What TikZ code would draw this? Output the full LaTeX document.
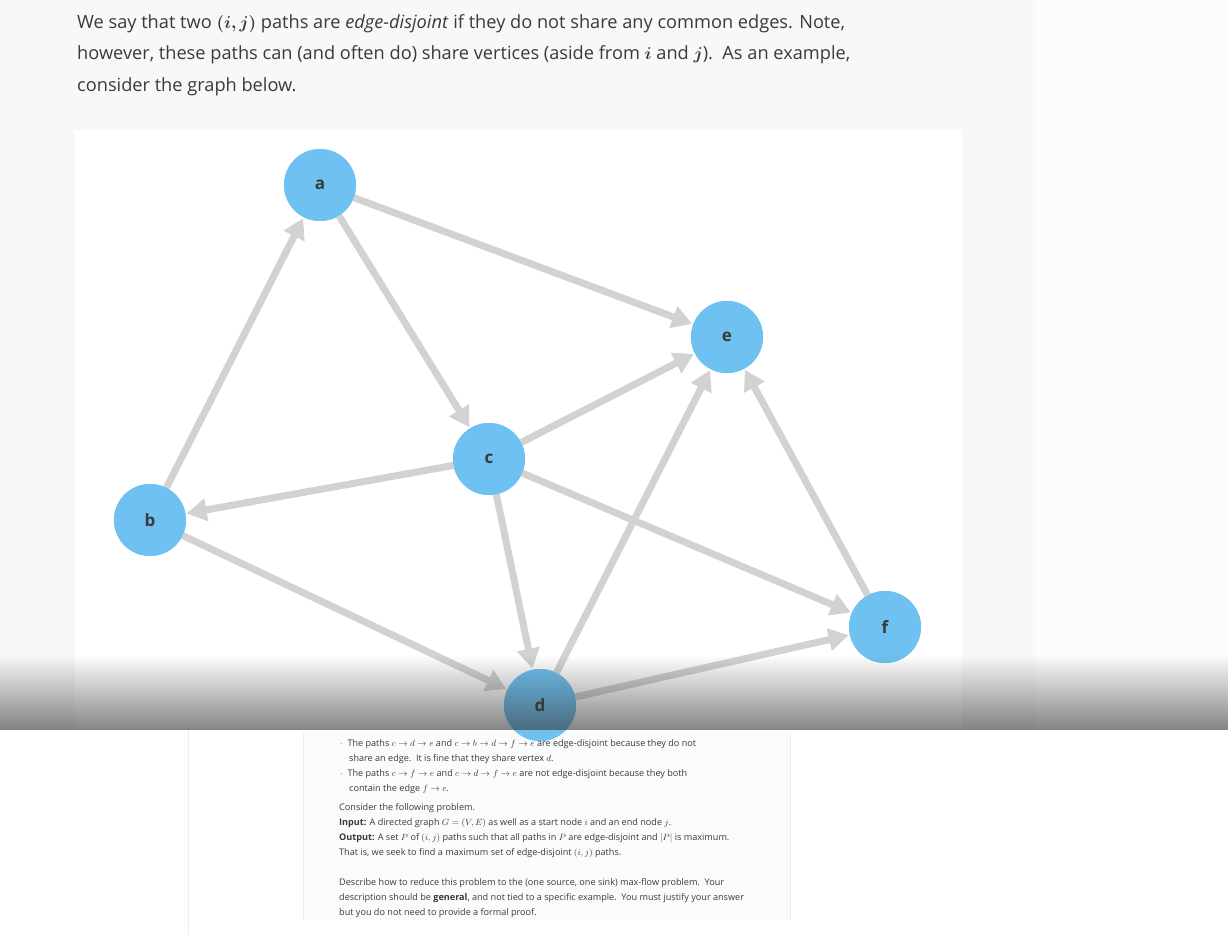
\documentclass[tikz,border=0pt]{standalone}
\usepackage{bm}
\usepackage{fontspec}
\setmainfont{Open Sans}
\usetikzlibrary{arrows.meta,fadings}
\definecolor{nodeblue}{HTML}{6EC1F0}
\definecolor{edgegray}{HTML}{D2D2D2}
\definecolor{pagegray}{HTML}{F7F8F8}
\definecolor{txt}{HTML}{3A3A3A}
\tikzset{
  vertex/.style={circle,fill=nodeblue,minimum size=72pt,inner sep=0pt,font=\fontsize{17}{17}\selectfont\bfseries,text=txt},
  edge/.style={edgegray,line width=7pt,-{Triangle[length=20pt,width=22pt]},shorten >=1pt},
  toptext/.style={anchor=base west,font=\fontsize{18.2}{18.2}\selectfont,text=txt,inner sep=0pt},
  smalltext/.style={anchor=base west,font=\fontsize{9.1}{9.1}\selectfont,text=txt,inner sep=0pt}
}
\begin{document}
\begin{tikzpicture}[x=1pt,y=-1pt]
\useasboundingbox (0,0) rectangle (1228,935);
% page
\fill[pagegray] (0,0) rectangle (1035,730);
\fill[white!98!gray] (1035,0) rectangle (1228,730);
\fill[white] (0,730) rectangle (1228,935);
\fill[pagegray!60] (303,733) rectangle (790,920);
\draw[gray!15] (188,730) -- (188,935) (303,733) -- (303,920) (790,733) -- (790,920);
% top text
\node[toptext] (l1) at (77,28) {We say that two $\bm{(i,j)}$ paths are \textit{edge-disjoint} if they do not share any common edges. Note,};
\node[toptext] (l2) at (77,59) {however, these paths can (and often do) share vertices (aside from $\bm{i}$ and $\bm{j}$).\ \ As an example,};
\node[toptext] (l3) at (77,91) {consider the graph below.};
% graph panel
\fill[white] (75,130) rectangle (962,730);
\node[vertex] (a) at (320,185) {a};
\node[vertex] (e) at (727,337) {e};
\node[vertex] (c) at (489,459) {c};
\node[vertex] (b) at (150,520) {b};
\node[vertex] (f) at (885,627) {f};
\node[vertex] (d) at (540,705) {d};
\foreach \s/\t in {b/a,a/e,a/c,c/b,c/e,c/d,c/f,b/d,d/e,d/f,f/e}
  \draw[edge] (\s) -- (\t);
\foreach \n in {a,e,c,b,f,d}
  \node[vertex] at (\n) {\n};
% shadow band
\fill[black!80,path fading=north,opacity=0.6] (0,655) rectangle (1228,730);
% lower text
\node[smalltext] (p1) at (340,746) {$\cdot$\ \ The paths $c\to d\to e$ and $c\to b\to d\to f\to e$ are edge-disjoint because they do not};
\node[smalltext] (p2) at (349,761) {share an edge.\ \ It is fine that they share vertex $d$.};
\node[smalltext] (p3) at (340,776) {$\cdot$\ \ The paths $c\to f\to e$ and $c\to d\to f\to e$ are not edge-disjoint because they both};
\node[smalltext] (p4) at (349,791) {contain the edge $f\to e$.};
\node[smalltext] (p5) at (339,810) {Consider the following problem.};
\node[smalltext] (p6) at (339,825) {\textbf{Input:} A directed graph $G=(V,E)$ as well as a start node $i$ and an end node $j$.};
\node[smalltext] (p7) at (339,840) {\textbf{Output:} A set $P$ of $(i,j)$ paths such that all paths in $P$ are edge-disjoint and $|P|$ is maximum.};
\node[smalltext] (p8) at (339,855) {That is, we seek to find a maximum set of edge-disjoint $(i,j)$ paths.};
\node[smalltext] (p9) at (339,885) {Describe how to reduce this problem to the (one source, one sink) max-flow problem.\ \ Your};
\node[smalltext] (p10) at (339,900) {description should be \textbf{general}, and not tied to a specific example.\ \ You must justify your answer};
\node[smalltext] (p11) at (339,915) {but you do not need to provide a formal proof.};
\end{tikzpicture}
\end{document}
